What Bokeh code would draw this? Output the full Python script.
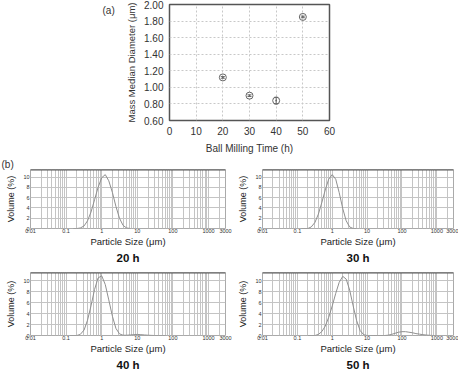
from bokeh.plotting import figure
from bokeh.layouts import column, row
from bokeh.models import (Range1d, FixedTicker, PrintfTickFormatter, Whisker, TeeHead,
                          ColumnDataSource, Span, Title)
from bokeh.core.properties import value
from bokeh.embed import file_html
from bokeh.resources import INLINE

FONT = "Liberation Sans"
TXT = "#333333"

# ---- panel (a) data ----
mill_time = [20, 30, 40, 50]
mmd = [1.12, 0.90, 0.84, 1.85]
mmd_err = [0.01, 0.01, 0.04, 0.01]
a_xticks = [0, 10, 20, 30, 40, 50, 60]
a_yticks = [0.60, 0.80, 1.00, 1.20, 1.40, 1.60, 1.80, 2.00]

# ---- panel (b) data: particle size distributions ----
size_20 = [0.16, 0.2, 0.25, 0.32, 0.4, 0.5, 0.63, 0.79, 1.0, 1.26, 1.58, 2.0, 2.51, 3.16, 3.98, 5.01, 6.31]
vol_20 = [0, 0, 0.1, 0.5, 1.5, 3.2, 5.6, 8.0, 9.9, 10.5, 9.3, 7.0, 4.3, 2.0, 0.6, 0.1, 0]

size_30 = [0.13, 0.16, 0.2, 0.25, 0.32, 0.4, 0.5, 0.63, 0.79, 1.0, 1.26, 1.58, 2.0, 2.51, 3.16, 3.98, 5.01]
vol_30 = [0, 0, 0, 0.3, 1.2, 2.8, 5.0, 7.5, 9.6, 10.5, 9.6, 7.0, 3.9, 1.5, 0.3, 0, 0]

size_40 = [0.13, 0.16, 0.2, 0.25, 0.32, 0.4, 0.5, 0.63, 0.79, 1.0, 1.26, 1.58, 2.0, 2.51, 3.16,
           3.98, 5.01, 6.31, 7.94, 10.0, 12.6, 15.8, 20.0, 25.1, 31.6, 39.8, 50.1, 63.1]
vol_40 = [0, 0, 0, 0.2, 1.0, 2.8, 5.4, 8.4, 10.5, 10.9, 9.3, 6.5, 3.5, 1.3, 0.3,
          0.05, 0.05, 0.1, 0.15, 0.2, 0.15, 0.1, 0.05, 0.02, 0, 0, 0, 0]

size_50 = [0.2, 0.25, 0.32, 0.4, 0.5, 0.63, 0.79, 1.0, 1.26, 1.58, 2.0, 2.51, 3.16, 3.98, 5.01,
           6.31, 7.94, 10.0, 12.6, 15.8, 20.0, 25.1, 31.6, 39.8, 50.1, 63.1, 79.4, 100, 126,
           158, 200, 251, 316, 398, 501, 631, 794, 1000]
vol_50 = [0, 0, 0, 0.2, 0.7, 1.7, 3.3, 5.4, 7.7, 9.7, 10.8, 10.3, 8.3, 5.4, 2.7,
          0.9, 0.15, 0, 0, 0, 0, 0, 0, 0.05, 0.2, 0.4, 0.6, 0.7, 0.7,
          0.6, 0.5, 0.35, 0.25, 0.15, 0.08, 0.03, 0, 0]

b_xticks = [0.01, 0.1, 1, 10, 100, 1000, 3000]
b_xlabels = ["0.01", "0.1", "1", "10", "100", "1000", "3000"]
b_yticks = [0, 2, 4, 6, 8, 10]

A_H = 156
ROW_H = 107

# ================= panel (a) =================
# blank strip holding the "(a)" tag
tagA = figure(width=120, height=A_H, x_range=Range1d(0, 120), y_range=Range1d(0, A_H),
              x_axis_location=None, y_axis_location=None, min_border=0,
              output_backend="svg", toolbar_location=None)
tagA.outline_line_color = None
tagA.grid.visible = False
tagA.text(x=[102], y=[A_H - 8], text=["(a)"], text_font=value(FONT), text_font_size="10px",
          text_color=TXT, text_align="left", text_baseline="middle")

pA = figure(width=338, height=A_H, x_range=Range1d(0, 60), y_range=Range1d(0.6, 2.0),
            min_border_left=49, min_border_right=129, min_border_top=4, min_border_bottom=33,
            output_backend="svg", toolbar_location=None)
pA.outline_line_color = "#555555"
pA.outline_line_width = 1.5
for ax in (pA.xaxis[0], pA.yaxis[0]):
    ax.axis_line_color = None
    ax.major_tick_line_color = None
    ax.minor_tick_line_color = None
    ax.major_tick_out = 0
    ax.minor_tick_out = 0
    ax.major_label_text_font = FONT
    ax.major_label_text_font_size = "10px"
    ax.major_label_text_color = TXT
    ax.axis_label_text_font = FONT
    ax.axis_label_text_font_style = "normal"
    ax.axis_label_text_color = TXT
    ax.major_label_standoff = 6
    ax.axis_label_standoff = 5
pA.xaxis.axis_label_text_font_size = "10px"
pA.yaxis.axis_label_text_font_size = "9.5px"
pA.yaxis.axis_label_standoff = 4
pA.xaxis.ticker = FixedTicker(ticks=a_xticks)
pA.yaxis.ticker = FixedTicker(ticks=a_yticks)
pA.yaxis.formatter = PrintfTickFormatter(format="%.2f")
pA.xaxis.axis_label = "Ball Milling Time (h)"
pA.yaxis.axis_label = "Mass Median Diameter (μm)"
pA.grid.grid_line_color = "#c8c8c8"
pA.grid.grid_line_dash = "2 2"

srcA = ColumnDataSource(dict(x=mill_time, y=mmd,
                             lo=[m - e for m, e in zip(mmd, mmd_err)],
                             hi=[m + e for m, e in zip(mmd, mmd_err)]))
pA.add_layout(Whisker(source=srcA, base="x", lower="lo", upper="hi",
                      line_color="#666666", line_width=1,
                      upper_head=TeeHead(size=4, line_color="#666666"),
                      lower_head=TeeHead(size=4, line_color="#666666")))
pA.scatter("x", "y", source=srcA, marker="circle_dot", size=7,
           line_color="#666666", fill_color=None, line_width=1)


# ================= panels (b) =================
def make_panel(sizes, vols, name, width, left, right, tag=None):
    p = figure(width=width, height=ROW_H, x_axis_type="log",
               x_range=Range1d(0.01, 3000), y_range=Range1d(0, 11.5),
               min_border_left=left, min_border_right=right, min_border_top=9,
               min_border_bottom=0, output_backend="svg", toolbar_location=None)
    p.outline_line_color = "#aaaaaa"
    p.outline_line_width = 1
    minor = [m * 10.0 ** e for e in range(-2, 4) for m in range(2, 10)]
    p.xaxis.ticker = FixedTicker(ticks=b_xticks, minor_ticks=minor)
    p.xaxis.major_label_overrides = {t: l for t, l in zip(b_xticks, b_xlabels)}
    p.yaxis.ticker = FixedTicker(ticks=b_yticks)
    for ax in (p.xaxis[0], p.yaxis[0]):
        ax.axis_line_color = None
        ax.major_tick_line_color = None
        ax.minor_tick_line_color = None
        ax.major_tick_out = 0
        ax.minor_tick_out = 0
        ax.major_label_text_font = FONT
        ax.major_label_text_font_size = "5.5px"
        ax.major_label_text_color = TXT
        ax.major_label_standoff = 1
        ax.axis_label_text_font = FONT
        ax.axis_label_text_font_style = "normal"
        ax.axis_label_text_color = "#222222"
        ax.axis_label_standoff = 0
        ax.axis_label_text_line_height = 0.9
    p.xaxis.major_label_standoff = 0
    p.xaxis.axis_label = "Particle Size (μm)"
    p.xaxis.axis_label_text_font_size = "9.5px"
    p.yaxis.axis_label = "Volume (%)"
    p.yaxis.axis_label_text_font_size = "9px"
    p.yaxis.axis_label_standoff = 4
    p.xgrid.grid_line_color = "#c4c4c4"
    p.xgrid.minor_grid_line_color = "#c4c4c4"
    p.ygrid.grid_line_color = "#c4c4c4"
    p.add_layout(Span(location=11.5, dimension="width", line_color="#555555", line_width=2))
    p.line(sizes, vols, line_color="#8f8f8f", line_width=1)
    p.add_layout(Title(text=name, align="center", text_font=FONT, text_font_size="11.5px",
                       text_font_style="bold", text_color="#111111", standoff=0,
                       text_line_height=0.9), "below")
    if tag:
        p.add_layout(Title(text=tag, align="left", offset=-29, text_font=FONT,
                           text_font_size="10px", text_font_style="normal",
                           text_color=TXT, standoff=0, text_line_height=0.8), "above")
    return p


p20 = make_panel(size_20, vol_20, "20 h", 232, 30, 7, tag="(b)")
p30 = make_panel(size_30, vol_30, "30 h", 226, 30, 5)
p40 = make_panel(size_40, vol_40, "40 h", 232, 30, 7)
p50 = make_panel(size_50, vol_50, "50 h", 226, 30, 5)

layout = column(row(tagA, pA), row(p20, p30), row(p40, p50))
open("out.html", "w").write(file_html(layout, INLINE))
